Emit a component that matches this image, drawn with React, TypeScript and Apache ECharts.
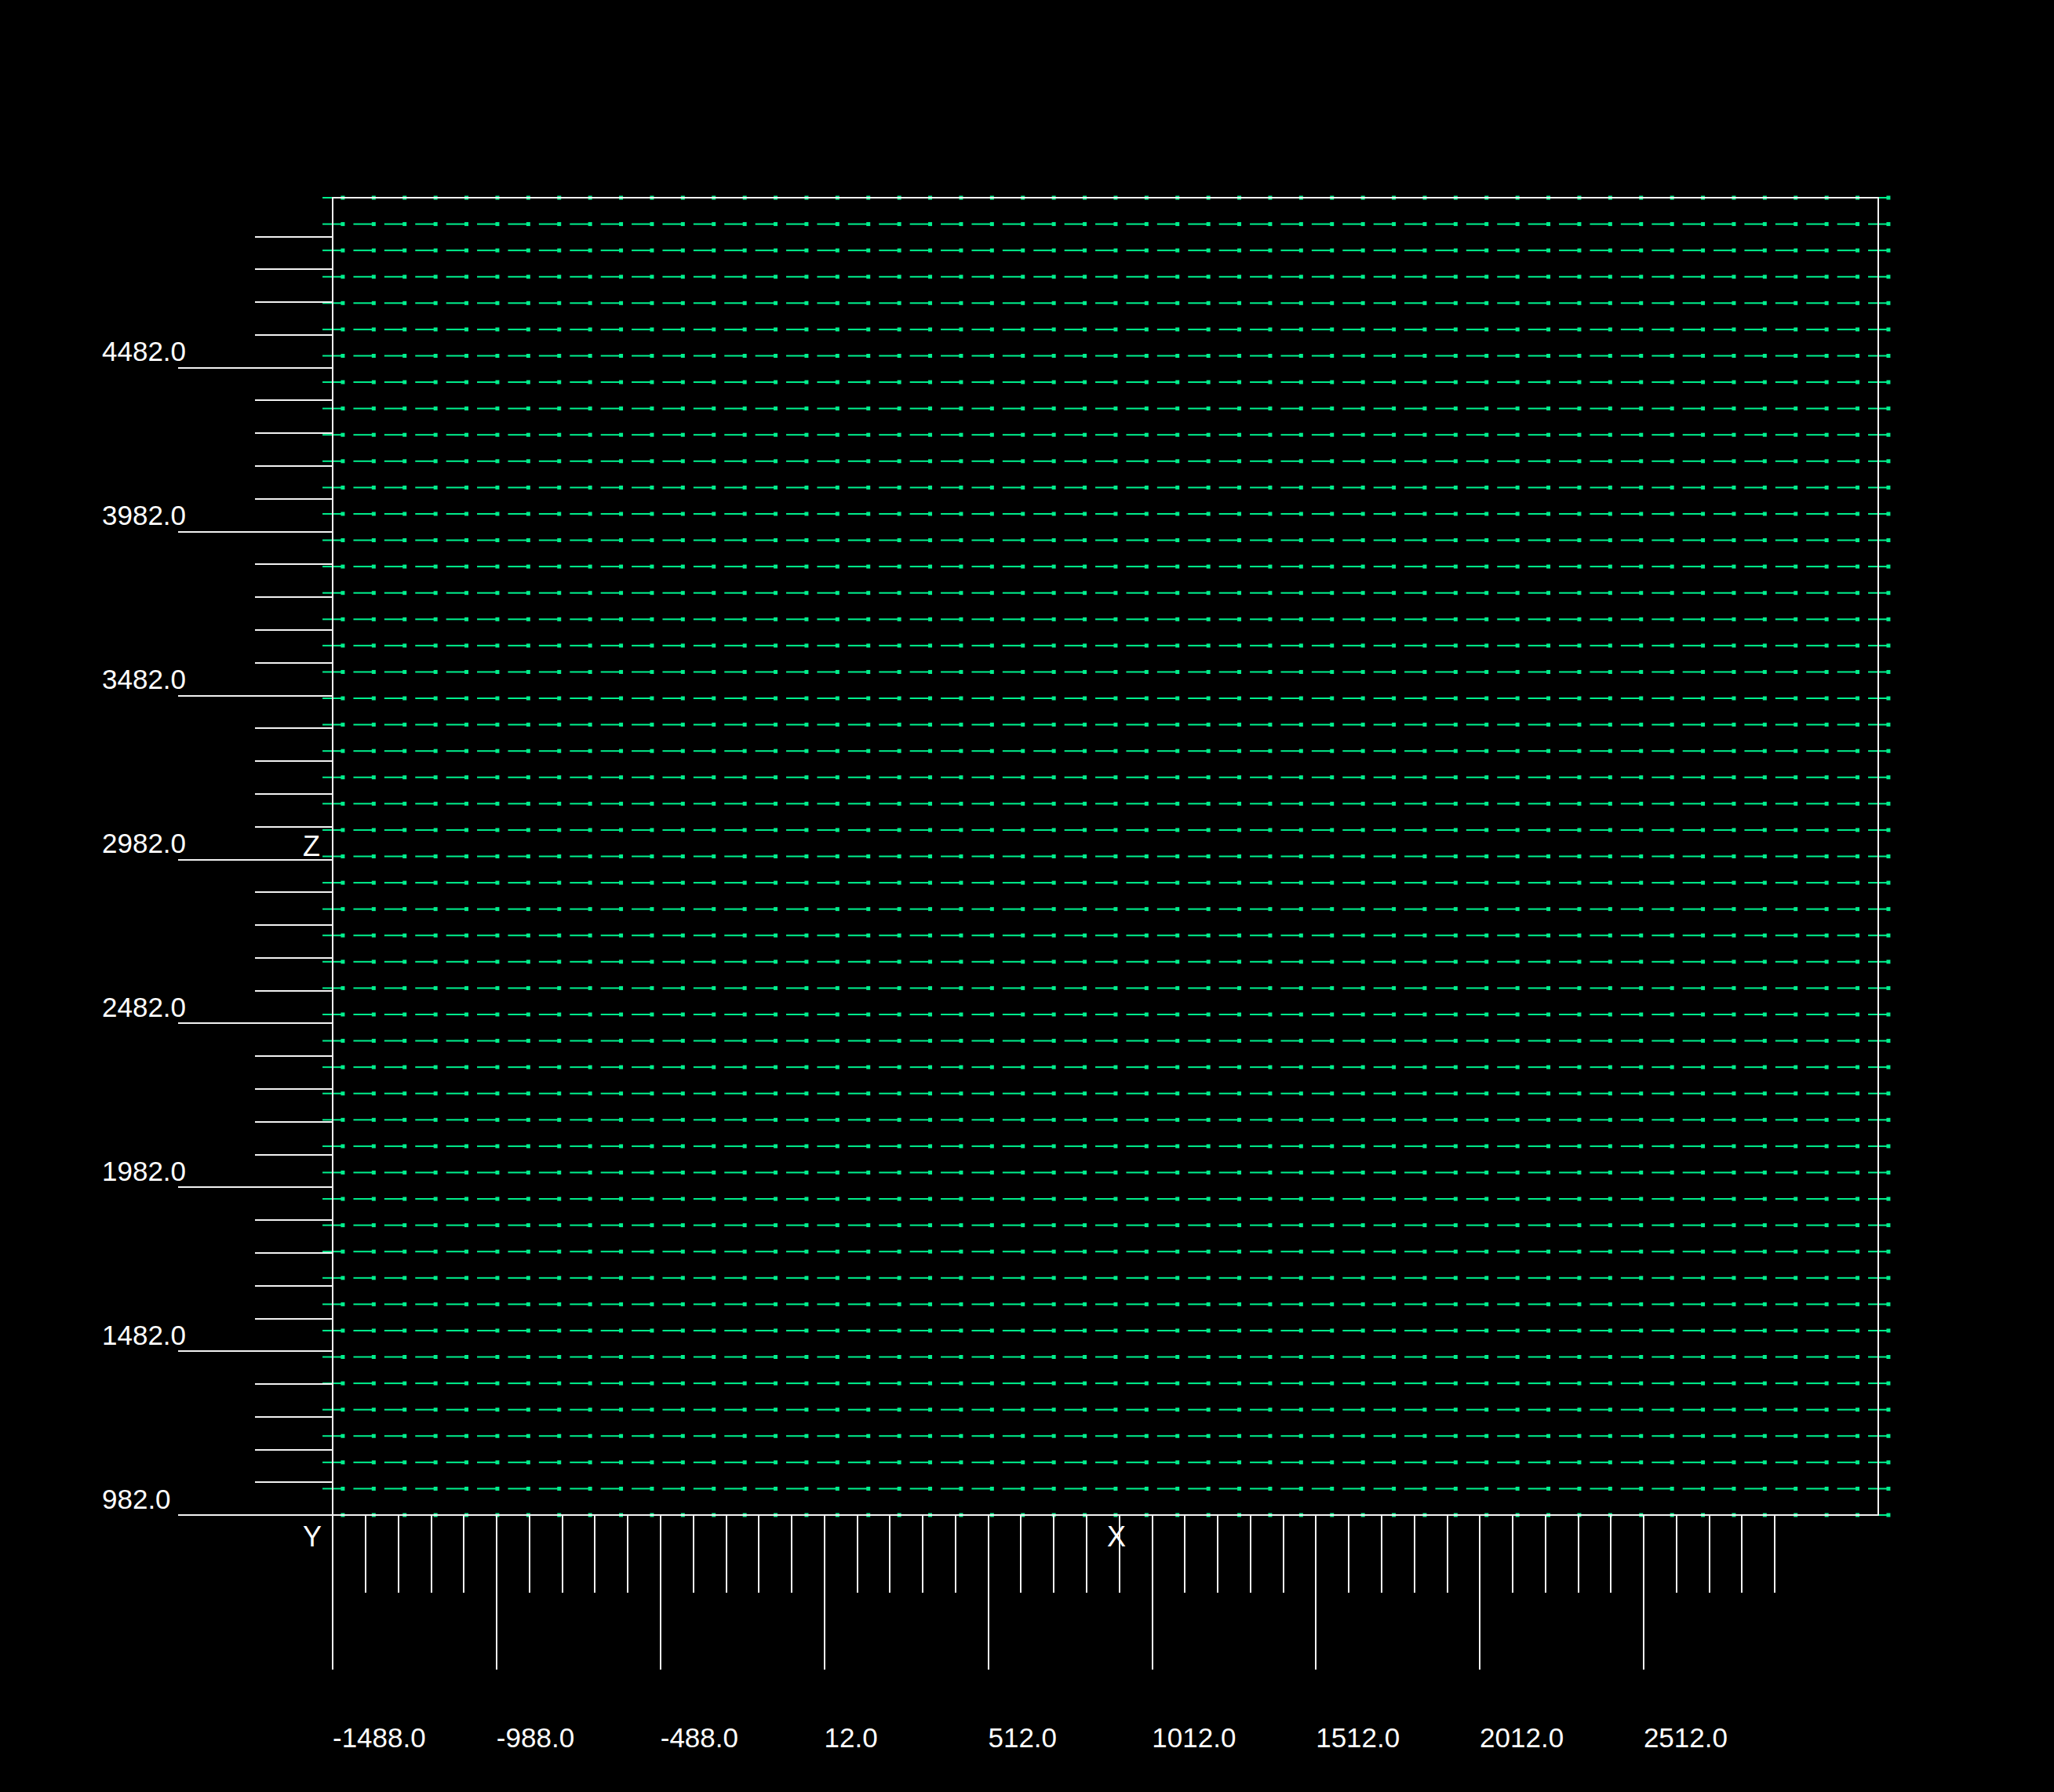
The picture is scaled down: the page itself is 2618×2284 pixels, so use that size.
import React, { useEffect, useRef } from "react";
import * as echarts from "echarts";

// Grid positions of the vectors (data units)
const X_GRID = [
  -1488.0, -1393.7, -1299.4, -1205.0, -1110.7, -1016.4, -922.1, -827.8, -733.4, -639.1,
  -544.8, -450.5, -356.2, -261.8, -167.5, -73.2, 21.1, 115.4, 209.8, 304.1,
  398.4, 492.7, 587.0, 681.4, 775.7, 870.0, 964.3, 1058.6, 1153.0, 1247.3,
  1341.6, 1435.9, 1530.2, 1624.6, 1718.9, 1813.2, 1907.5, 2001.8, 2096.2, 2190.5,
  2284.8, 2379.1, 2473.4, 2567.8, 2662.1, 2756.4, 2850.7, 2945.0, 3039.4, 3133.7,
  3228.0,
];
const Z_GRID = [
  982.0, 1062.4, 1142.7, 1223.1, 1303.4, 1383.8, 1464.2, 1544.5, 1624.9, 1705.2,
  1785.6, 1866.0, 1946.3, 2026.7, 2107.0, 2187.4, 2267.8, 2348.1, 2428.5, 2508.8,
  2589.2, 2669.6, 2749.9, 2830.3, 2910.6, 2991.0, 3071.4, 3151.7, 3232.1, 3312.4,
  3392.8, 3473.2, 3553.5, 3633.9, 3714.2, 3794.6, 3875.0, 3955.3, 4035.7, 4116.0,
  4196.4, 4276.8, 4357.1, 4437.5, 4517.8, 4598.2, 4678.6, 4758.9, 4839.3, 4919.6,
  5000.0,
];
// Vector components (uniform field)
const U_COMPONENT = 62;
const W_COMPONENT = 0;

const X_MIN = -1488;
const X_MAX = 3228;
const Z_MIN = 982;
const Z_MAX = 5000;

const X_MAJOR_TICKS = [-1488, -988, -488, 12, 512, 1012, 1512, 2012, 2512];
const X_MINOR_TICKS = [
  -1488, -1388, -1288, -1188, -1088, -988, -888, -788, -688, -588,
  -488, -388, -288, -188, -88, 12, 112, 212, 312, 412,
  512, 612, 712, 812, 912, 1012, 1112, 1212, 1312, 1412,
  1512, 1612, 1712, 1812, 1912, 2012, 2112, 2212, 2312, 2412,
  2512, 2612, 2712, 2812, 2912,
];
const Z_MAJOR_TICKS = [982, 1482, 1982, 2482, 2982, 3482, 3982, 4482];
const Z_MINOR_TICKS = [
  982, 1082, 1182, 1282, 1382, 1482, 1582, 1682, 1782, 1882,
  1982, 2082, 2182, 2282, 2382, 2482, 2582, 2682, 2782, 2882,
  2982, 3082, 3182, 3282, 3382, 3482, 3582, 3682, 3782, 3882,
  3982, 4082, 4182, 4282, 4382, 4482, 4582, 4682, 4782, 4882,
];
const AXIS_NAMES = { x: "X", y: "Y", z: "Z" };

const GREEN = "#00f08e";
const WHITE = "#f2f2f2";
const FONT = "Liberation Sans";

export default function App() {
  const ref = useRef<HTMLDivElement>(null);

  useEffect(() => {
    if (!ref.current) return;
    const chart = echarts.init(ref.current, null, { renderer: "svg" });

    const data: number[][] = [];
    for (const z of Z_GRID) {
      for (const x of X_GRID) {
        data.push([x, z, U_COMPONENT, W_COMPONENT]);
      }
    }

    const fmt = (v: number) => v.toFixed(1);
    const baseX = { type: "value", min: X_MIN, max: X_MAX, gridIndex: 0, splitLine: { show: false }, z: 10 };
    const baseY = { type: "value", min: Z_MIN, max: Z_MAX, gridIndex: 0, splitLine: { show: false }, z: 10 };

    chart.setOption({
      animation: false,
      backgroundColor: "#000000",
      grid: { left: 424, top: 252, width: 1970, height: 1679, containLabel: false },
      xAxis: [
        {
          ...baseX,
          position: "bottom",
          axisLine: { show: true, onZero: false, lineStyle: { color: WHITE, width: 2 } },
          axisTick: { show: true, customValues: X_MAJOR_TICKS, length: 197, lineStyle: { color: WHITE, width: 2 } },
          axisLabel: {
            show: true,
            customValues: X_MAJOR_TICKS,
            formatter: fmt,
            align: "left",
            verticalAlign: "top",
            margin: 266,
            color: "#ffffff",
            fontFamily: FONT,
            fontSize: 35,
          },
        },
        {
          ...baseX,
          position: "bottom",
          axisLine: { show: false, onZero: false },
          axisTick: { show: true, customValues: X_MINOR_TICKS, length: 99, lineStyle: { color: WHITE, width: 2 } },
          axisLabel: { show: false },
        },
        {
          ...baseX,
          position: "top",
          axisLine: { show: true, onZero: false, lineStyle: { color: WHITE, width: 2 } },
          axisTick: { show: false },
          axisLabel: { show: false },
        },
      ],
      yAxis: [
        {
          ...baseY,
          position: "left",
          axisLine: { show: true, onZero: false, lineStyle: { color: WHITE, width: 2 } },
          axisTick: { show: true, customValues: Z_MAJOR_TICKS, length: 197, lineStyle: { color: WHITE, width: 2 } },
          axisLabel: {
            show: true,
            customValues: Z_MAJOR_TICKS,
            formatter: fmt,
            align: "left",
            verticalAlign: "bottom",
            margin: 294,
            padding: [0, 0, 3, 0],
            color: "#ffffff",
            fontFamily: FONT,
            fontSize: 35,
          },
        },
        {
          ...baseY,
          position: "left",
          axisLine: { show: false, onZero: false },
          axisTick: { show: true, customValues: Z_MINOR_TICKS, length: 99, lineStyle: { color: WHITE, width: 2 } },
          axisLabel: { show: false },
        },
        {
          ...baseY,
          position: "right",
          axisLine: { show: true, onZero: false, lineStyle: { color: WHITE, width: 2 } },
          axisTick: { show: false },
          axisLabel: { show: false },
        },
      ],
      graphic: [
        { type: "text", left: 1411, top: 1940, style: { text: AXIS_NAMES.x, fill: "#ffffff", font: `36px "${FONT}"` }, z: 20 },
        { type: "text", left: 386, top: 1940, style: { text: AXIS_NAMES.y, fill: "#ffffff", font: `36px "${FONT}"` }, z: 20 },
        { type: "text", left: 386, top: 1060, style: { text: AXIS_NAMES.z, fill: "#ffffff", font: `36px "${FONT}"` }, z: 20 },
      ],
      series: [
        {
          type: "custom",
          xAxisIndex: 0,
          yAxisIndex: 0,
          clip: false,
          z: 2,
          data,
          renderItem: (params: any, api: any) => {
            const x = api.value(0);
            const z = api.value(1);
            const u = api.value(2);
            const w = api.value(3);
            const p0 = api.coord([x - u / 2, z - w / 2]);
            const p1 = api.coord([x + u / 2, z + w / 2]);
            return {
              type: "group",
              children: [
                {
                  type: "line",
                  shape: { x1: p0[0], y1: p0[1], x2: p1[0], y2: p1[1] },
                  style: { stroke: GREEN, lineWidth: 2 },
                },
                {
                  type: "rect",
                  shape: { x: p1[0] - 2.5, y: p1[1] - 2.5, width: 5, height: 5 },
                  style: { fill: GREEN },
                },
              ],
            };
          },
        },
      ],
    });

    return () => chart.dispose();
  }, []);

  return (
    <div
      ref={ref}
      style={{ position: "fixed", left: 0, top: 0, width: 2618, height: 2284, background: "#000" }}
    />
  );
}
